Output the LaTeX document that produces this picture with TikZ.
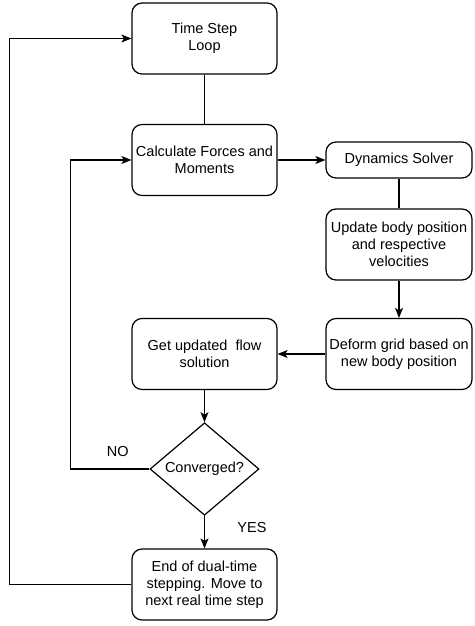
\documentclass[tikz,border=0pt]{standalone}
\usepackage{fontspec}
\setmainfont{Liberation Sans}
\usetikzlibrary{positioning,shapes.geometric,arrows.meta}
\begin{document}
\begin{tikzpicture}[x=1pt, y=1pt, line width=1.2pt, on grid,
    >={Stealth[length=10pt, width=8pt, inset=2.5pt]},
    flowbox/.style = {draw, rounded corners=10pt, minimum width=145pt, minimum height=71pt,
      align=center, inner sep=2pt, font=\fontsize{14.5}{17}\selectfont},
    decision/.style = {draw, diamond, minimum width=109pt, minimum height=84pt,
      inner sep=0pt, font=\fontsize{14.5}{17}\selectfont},
    edgelabel/.style = {font=\fontsize{14.5}{17}\selectfont}]

      \useasboundingbox (0,0) rectangle (474,-626);

      \node[flowbox] (TSL) at (204.5,-38.5) {Time Step\\Loop};
      \node[flowbox] (CFM) [below=121.5pt of TSL] {Calculate Forces and\\Moments};
      \node[flowbox, minimum width=146pt, minimum height=36pt] (DS) [right=194.5pt of CFM] {Dynamics Solver};
      \node[flowbox, minimum width=146pt] (UBP) [below=84.5pt of DS] {Update body position\\and respective\\velocities};
      \node[flowbox, minimum width=146pt] (DG) [below=109.5pt of UBP] {Deform grid based on\\new body position};
      \node[flowbox] (GUF) [left=194.5pt of DG] {Get updated\ \ flow\\solution};
      \node[decision] (CONV) [below=115pt of GUF] {Converged?};
      \node[flowbox] (END) [below=115.5pt of CONV] {End of dual-time\\stepping. Move to\\next real time step};

      \draw (TSL) to (CFM);
      \draw[->] (CFM) to (DS);
      \draw (DS) to (UBP);
      \draw[->] (UBP) to (DG);
      \draw[->] (DG) to (GUF);
      \draw[->] (GUF) to (CONV);
      \draw[->] (CONV) to node[edgelabel, pos=0.35, xshift=47.5pt] (YES) {YES} (END);

      \draw[->] (CONV.west) -| node[edgelabel, pos=0.2, yshift=17pt] (NO) {NO} ([xshift=-61pt]CFM.west) -- (CFM.west);
      \draw[->] (END.west) -| ([xshift=-122pt]TSL.west) -- (TSL.west);

\end{tikzpicture}
\end{document}
